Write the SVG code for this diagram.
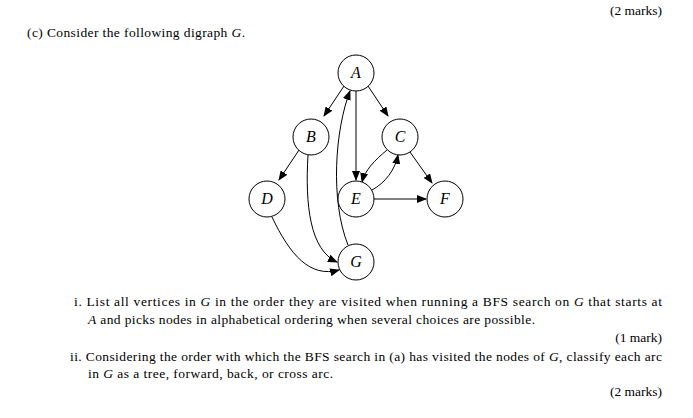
<svg xmlns="http://www.w3.org/2000/svg" width="693" height="418" viewBox="0 0 693 418">
<style>
text{font-family:"Liberation Serif","DejaVu Serif",serif;font-size:13.5px;fill:#000}
.r{text-anchor:end}
.n circle{fill:#fff;stroke:#000;stroke-width:1}
.n text{font-style:italic;font-size:16px;text-anchor:middle}
.e path{fill:none;stroke:#000;stroke-width:1;marker-end:url(#ah)}
</style>
<defs><marker id="ah" markerWidth="10" markerHeight="8" refX="9" refY="4" orient="auto" markerUnits="userSpaceOnUse"><path d="M0,0 L10,4 L0,8 Z" fill="#000"/></marker></defs>
<rect width="693" height="418" fill="#fff"/>
<text class="r" x="662" y="15">(2 marks)</text>
<text x="27" y="37" textLength="218" lengthAdjust="spacing">(c) Consider the following digraph <tspan font-style="italic">G</tspan>.</text>
<g class="e">
<path d="M344,86 L324,116"/>
<path d="M368,86 L388,116"/>
<path d="M356,91 L356,180"/>
<path d="M299,150 L279,180"/>
<path d="M308,155 C305,205 310,250 337,262"/>
<path d="M272,217 C290,255 310,278 339,270"/>
<path d="M348,245 C330,200 335,130 350,91"/>
<path d="M387,150 C375,160 365,170 362,182"/>
<path d="M372,190 C385,183 395,170 398,155"/>
<path d="M410,152 L432,183"/>
<path d="M374,199 L426,199"/>
</g>
<g id="A" class="n"><circle cx="356" cy="73" r="18"/><text x="356" y="78">A</text></g>
<g id="B" class="n"><circle cx="311" cy="137" r="18"/><text x="311" y="142">B</text></g>
<g id="C" class="n"><circle cx="400" cy="137" r="18"/><text x="400" y="142">C</text></g>
<g id="D" class="n"><circle cx="267" cy="199" r="18"/><text x="267" y="204">D</text></g>
<g id="E" class="n"><circle cx="356" cy="199" r="18"/><text x="356" y="204">E</text></g>
<g id="F" class="n"><circle cx="445" cy="199" r="18"/><text x="445" y="204">F</text></g>
<g id="G" class="n"><circle cx="356" cy="262" r="18"/><text x="356" y="267">G</text></g>
<text x="74" y="306" textLength="588" lengthAdjust="spacing">i. List all vertices in <tspan font-style="italic">G</tspan> in the order they are visited when running a BFS search on <tspan font-style="italic">G</tspan> that starts at</text>
<text x="88" y="324" textLength="447" lengthAdjust="spacing"><tspan font-style="italic">A</tspan> and picks nodes in alphabetical ordering when several choices are possible.</text>
<text class="r" x="662" y="342">(1 mark)</text>
<text x="70" y="361" textLength="592" lengthAdjust="spacing">ii. Considering the order with which the BFS search in (a) has visited the nodes of <tspan font-style="italic">G</tspan>, classify each arc</text>
<text x="88" y="378" textLength="245" lengthAdjust="spacing">in <tspan font-style="italic">G</tspan> as a tree, forward, back, or cross arc.</text>
<text class="r" x="662" y="396">(2 marks)</text>
</svg>
